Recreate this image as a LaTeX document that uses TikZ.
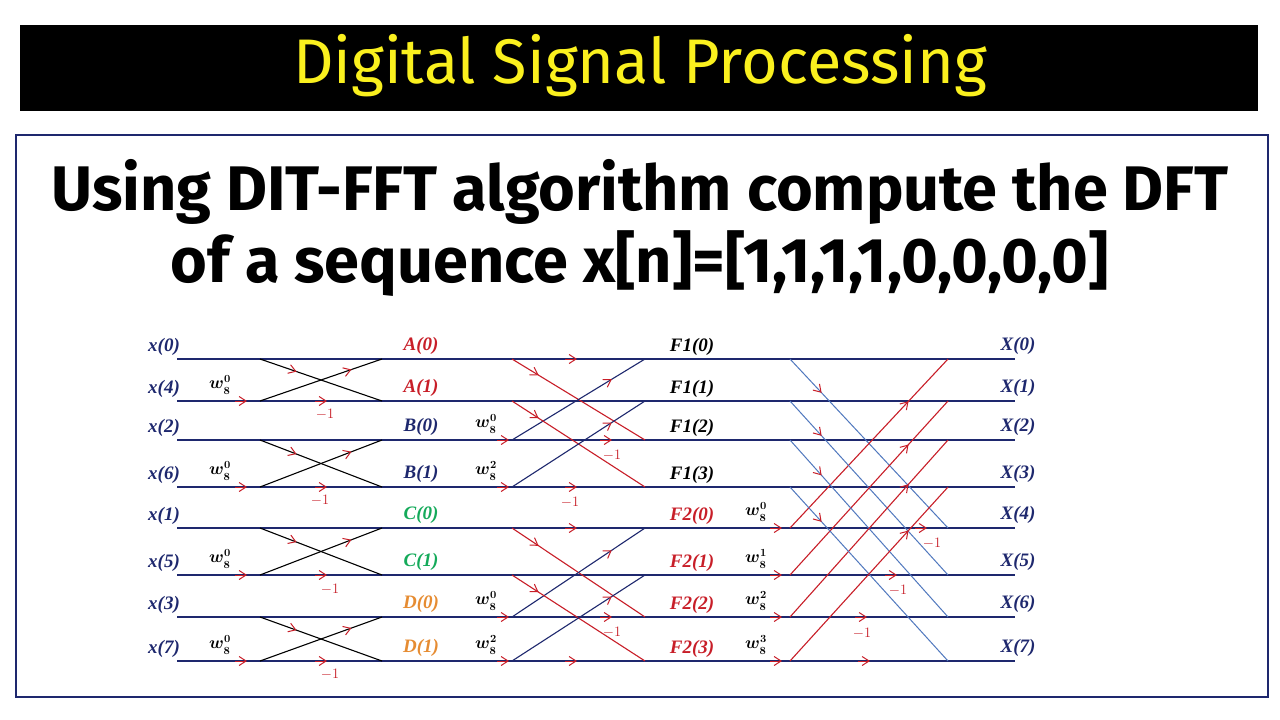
\documentclass[tikz,border=0pt]{standalone}
\usepackage{fontspec}
\setsansfont{Fira Sans}
\setmainfont{Liberation Serif}
\usetikzlibrary{arrows.meta,decorations.markings}
\definecolor{navy}{RGB}{30,40,110}
\definecolor{lred}{RGB}{200,30,40}
\definecolor{lgreen}{RGB}{20,170,90}
\definecolor{lorange}{RGB}{230,140,50}
\definecolor{lblue}{RGB}{80,120,190}
\definecolor{ttl}{RGB}{250,240,30}
\begin{document}
\begin{tikzpicture}[x=1pt,y=-1pt,
  hline/.style={draw=navy,line width=1.2pt},
  bk/.style={draw=black,line width=1.1pt},
  rd/.style={draw=lred,line width=1.1pt},
  bl/.style={draw=navy,line width=1.1pt},
  lb/.style={draw=lblue,line width=1pt},
  am/.style={postaction={decorate},decoration={markings,mark=at position #1 with {\arrow[lred,line width=1pt]{Straight Barb[length=7pt,width=9pt]}}}},
  lab/.style={font=\bfseries\itshape\fontsize{19}{19}\selectfont,inner sep=1pt},
  tw/.style={font=\boldmath\fontsize{16}{16}\selectfont,inner sep=0pt},
  mo/.style={text=lred,font=\fontsize{14}{14}\selectfont,inner sep=0pt},
  ra/.style={draw=lred,line width=1pt,-{Straight Barb[length=7pt,width=9pt]}}]
\useasboundingbox (0,0) rectangle (1280,720);
\fill[white] (0,0) rectangle (1280,720);
\node[fill=black,minimum width=1238pt,minimum height=86pt,anchor=north west,inner sep=0pt] (bar) at (20,25) {};
\node[text=ttl,font=\sffamily\fontsize{63}{63}\selectfont] (title) at (640,66) {Digital Signal Processing};
\node[draw=navy,line width=2pt,minimum width=1252pt,minimum height=562pt,anchor=north west,inner sep=0pt] (frame) at (15,134) {};
\node[font=\sffamily\bfseries\fontsize{63}{72}\selectfont,align=center] (q) at (640,228) {Using DIT-FFT algorithm compute the DFT\\of a sequence x[n]=[1,1,1,1,0,0,0,0]};
\def\ry{{359,401,440,487,528,575,617,661}}
\foreach \i in {0,...,7}{
  \pgfmathsetmacro{\yy}{\ry[\i]}
  \coordinate (L\i) at (177,\yy);
  \coordinate (R\i) at (1015,\yy);
  \coordinate (a\i) at (260,\yy);
  \coordinate (b\i) at (382,\yy);
  \coordinate (c\i) at (512,\yy);
  \coordinate (d\i) at (645,\yy);
  \coordinate (e\i) at (790,\yy);
  \coordinate (f\i) at (948,\yy);
  \draw[hline] (L\i) -- (R\i);
}
\foreach \p/\q in {0/1,2/3,4/5,6/7}{
  \draw[bk,am=0.3] (a\p) -- (b\q);
  \draw[bk,am=0.75] (a\q) -- (b\p);
}
\foreach \p/\q in {0/2,1/3,4/6,5/7}{
  \draw[rd,am=0.2] (c\p) -- (d\q);
  \draw[bl,am=0.75] (c\q) -- (d\p);
}
\foreach \p/\q in {0/4,1/5,2/6,3/7}{
  \draw[lb,am=0.2] (e\p) -- (f\q);
  \draw[rd,am=0.75] (e\q) -- (f\p);
}
\foreach \i/\xx in {1/245,3/245,5/245,7/245,1/325,3/325,5/325,7/325,0/575,2/610,3/575,4/575,6/610,7/575,2/507,3/507,6/507,7/507,4/780,5/780,6/780,7/780,4/925,5/895,6/865,7/868}{
  \pgfmathsetmacro{\yy}{\ry[\i]}
  \draw[ra] (\xx-10,\yy) -- (\xx+2,\yy);
}
\foreach \xx/\yy in {325/414, 320/500, 330/589, 330/674, 612/455, 570/502, 612/632, 932/543, 898/590, 862/633}{
  \node[mo] at (\xx,\yy) {$-1$};
}
\foreach \i/\t in {0/0,1/4,2/2,3/6,4/1,5/5,6/3,7/7}{
  \node[lab,text=navy] at (164,\ry[\i]-12) {x(\t)};
}
\foreach \i in {0,...,7}{
  \node[lab,text=navy] at (1018,\ry[\i]-13) {X(\i)};
}
\foreach \i/\t/\c in {0/A/lred,1/A/lred,2/B/navy,3/B/navy,4/C/lgreen,5/C/lgreen,6/D/lorange,7/D/lorange}{
  \pgfmathtruncatemacro{\k}{mod(\i,2)}
  \node[lab,text=\c] at (421,\ry[\i]-13) {\t(\k)};
}
\foreach \i in {0,...,3}{
  \node[lab,text=black] at (692,\ry[\i]-12) {F1(\i)};
  \pgfmathtruncatemacro{\j}{\i+4}
  \node[lab,text=lred] at (692,\ry[\j]-12) {F2(\i)};
}
\foreach \i in {1,3,5,7}{\node[tw] at (220,\ry[\i]-16) {$w_8^0$};}
\foreach \i/\k in {2/0,3/2,6/0,7/2}{\node[tw] at (486,\ry[\i]-16) {$w_8^\k$};}
\foreach \i/\k in {4/0,5/1,6/2,7/3}{\node[tw] at (756,\ry[\i]-16) {$w_8^\k$};}
\end{tikzpicture}
\end{document}
